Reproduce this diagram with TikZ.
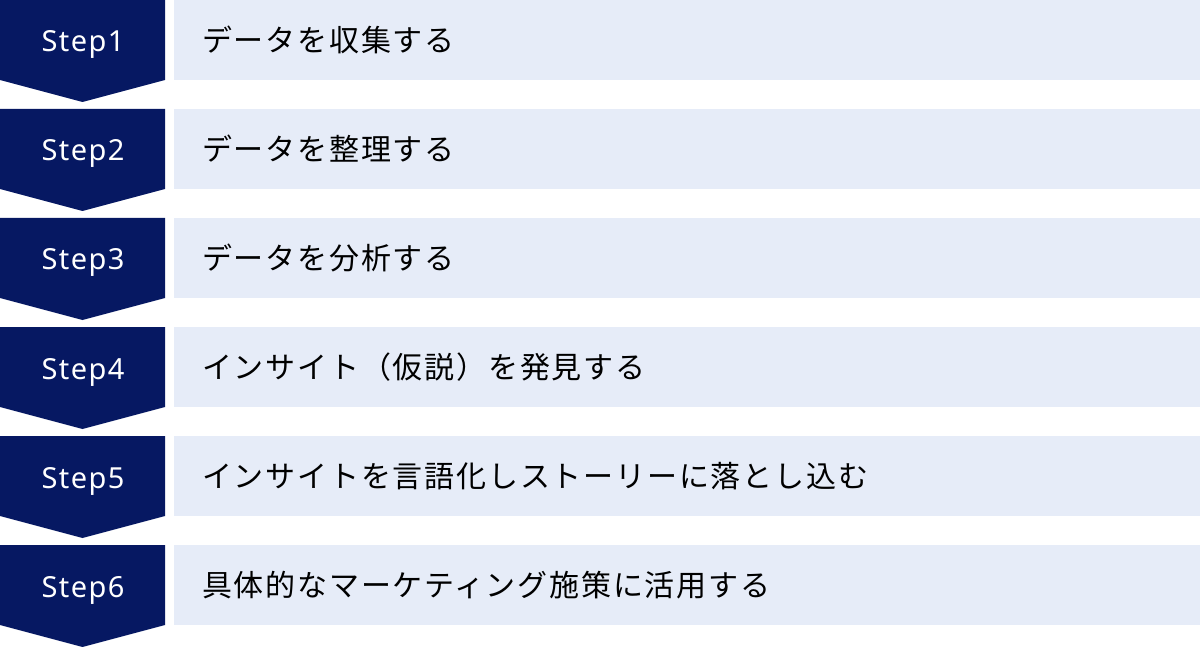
\documentclass[tikz,border=0pt]{standalone}
\usepackage{fontspec}
\setmainfont{Noto Sans}
\newfontfamily\jpfont[LetterSpace=6]{Noto Sans CJK JP}
\newfontfamily\stepfont[LetterSpace=5]{Noto Sans}
\definecolor{navy}{HTML}{061862}
\definecolor{paleblue}{HTML}{E6ECF8}
\tikzset{
  stepmark/.style = {font = \stepfont\fontsize{29}{34}\selectfont, text = white, inner sep = 0, anchor = base},
  taskline/.style = {font = \jpfont\fontsize{30}{36}\selectfont, text = black, anchor = west, inner sep = 0}
}

\begin{document}
\begin{tikzpicture}[x = 1pt, y = -1pt]
\useasboundingbox (0, 0) rectangle (1200, 647);

\draw[fill = navy, draw = none] (0, 0) -- (165, 0) -- (165, 80) -- (82.5, 102) -- (0, 80) -- cycle;
\draw[fill = navy, draw = none] (0, 109) -- (165, 109) -- (165, 189) -- (82.5, 211) -- (0, 189) -- cycle;
\draw[fill = navy, draw = none] (0, 218) -- (165, 218) -- (165, 298) -- (82.5, 320) -- (0, 298) -- cycle;
\draw[fill = navy, draw = none] (0, 327) -- (165, 327) -- (165, 407) -- (82.5, 429) -- (0, 407) -- cycle;
\draw[fill = navy, draw = none] (0, 436) -- (165, 436) -- (165, 516) -- (82.5, 538) -- (0, 516) -- cycle;
\draw[fill = navy, draw = none] (0, 545) -- (165, 545) -- (165, 625) -- (82.5, 647) -- (0, 625) -- cycle;

\draw[fill = paleblue, draw = none] (174, 0) rectangle (1200, 80);
\draw[fill = paleblue, draw = none] (174, 109) rectangle (1200, 189);
\draw[fill = paleblue, draw = none] (174, 218) rectangle (1200, 298);
\draw[fill = paleblue, draw = none] (174, 327) rectangle (1200, 407);
\draw[fill = paleblue, draw = none] (174, 436) rectangle (1200, 516);
\draw[fill = paleblue, draw = none] (174, 545) rectangle (1200, 625);

\node[stepmark] (step1) at (83, 52) {Step1};
\node[stepmark] (step2) at (83, 161) {Step2};
\node[stepmark] (step3) at (83, 270) {Step3};
\node[stepmark] (step4) at (83, 379) {Step4};
\node[stepmark] (step5) at (83, 488) {Step5};
\node[stepmark] (step6) at (83, 597) {Step6};

\node[taskline] (task1) at (202, 40) {データを収集する};
\node[taskline] (task2) at (202, 149) {データを整理する};
\node[taskline] (task3) at (202, 258) {データを分析する};
\node[taskline] (task4) at (202, 367) {インサイト（仮説）を発見する};
\node[taskline] (task5) at (202, 476) {インサイトを言語化しストーリーに落とし込む};
\node[taskline] (task6) at (202, 585) {具体的なマーケティング施策に活用する};
\end{tikzpicture}
\end{document}
